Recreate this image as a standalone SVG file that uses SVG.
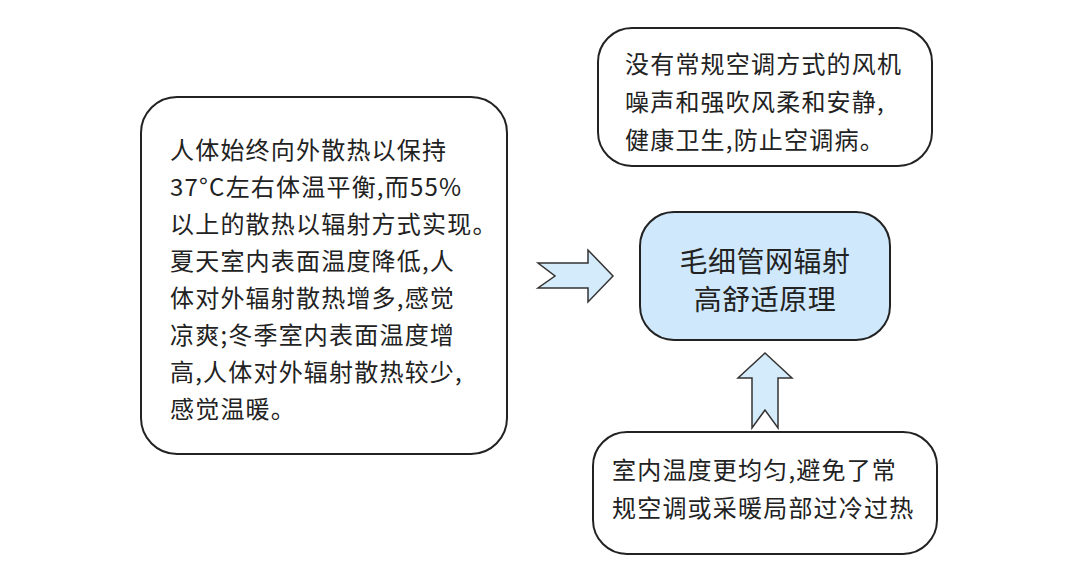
<svg xmlns="http://www.w3.org/2000/svg" width="1080" height="576" viewBox="0 0 1080 576">
<style>
.box{fill:#fff;stroke:#222;stroke-width:2}
.main{fill:#cfe8fb;stroke:#222;stroke-width:2}
.arr{fill:#d4ebfb;stroke:#333;stroke-width:1.5}
text{font-family:"Noto Sans CJK SC","Noto Sans",sans-serif;fill:#222;font-size:24px;letter-spacing:1.2px}
.c{font-size:28px;text-anchor:middle;letter-spacing:0.5px}
</style>
<rect width="1080" height="576" fill="#fff"/>
<g id="left">
<rect class="box" x="141" y="97" width="366" height="357" rx="36"/>
<text x="170" y="159">人体始终向外散热以保持</text>
<text x="170" y="196">37°C左右体温平衡,而55%</text>
<text x="170" y="233">以上的散热以辐射方式实现。</text>
<text x="170" y="270">夏天室内表面温度降低,人</text>
<text x="170" y="307">体对外辐射散热增多,感觉</text>
<text x="170" y="344">凉爽;冬季室内表面温度增</text>
<text x="170" y="381">高,人体对外辐射散热较少,</text>
<text x="170" y="418">感觉温暖。</text>
</g>
<g id="top">
<rect class="box" x="598" y="28" width="334" height="138" rx="34"/>
<text x="625" y="73">没有常规空调方式的风机</text>
<text x="625" y="111">噪声和强吹风柔和安静,</text>
<text x="625" y="149">健康卫生,防止空调病。</text>
</g>
<g id="center">
<rect class="main" x="640" y="212" width="250" height="128" rx="34"/>
<text class="c" x="765" y="272">毛细管网辐射</text>
<text class="c" x="765" y="310">高舒适原理</text>
</g>
<g id="bottom">
<rect class="box" x="593" y="432" width="344" height="122" rx="34"/>
<text x="612" y="479">室内温度更均匀,避免了常</text>
<text x="612" y="517">规空调或采暖局部过冷过热</text>
</g>
<g id="connectors">
<polygon class="arr" points="538,263 588,263 588,250 613,276 588,302 588,288 538,288 555,276"/>
<polygon class="arr" points="765,353 792,378 778,378 778,428 765,410 752,428 752,378 738,378"/>
</g>
</svg>
